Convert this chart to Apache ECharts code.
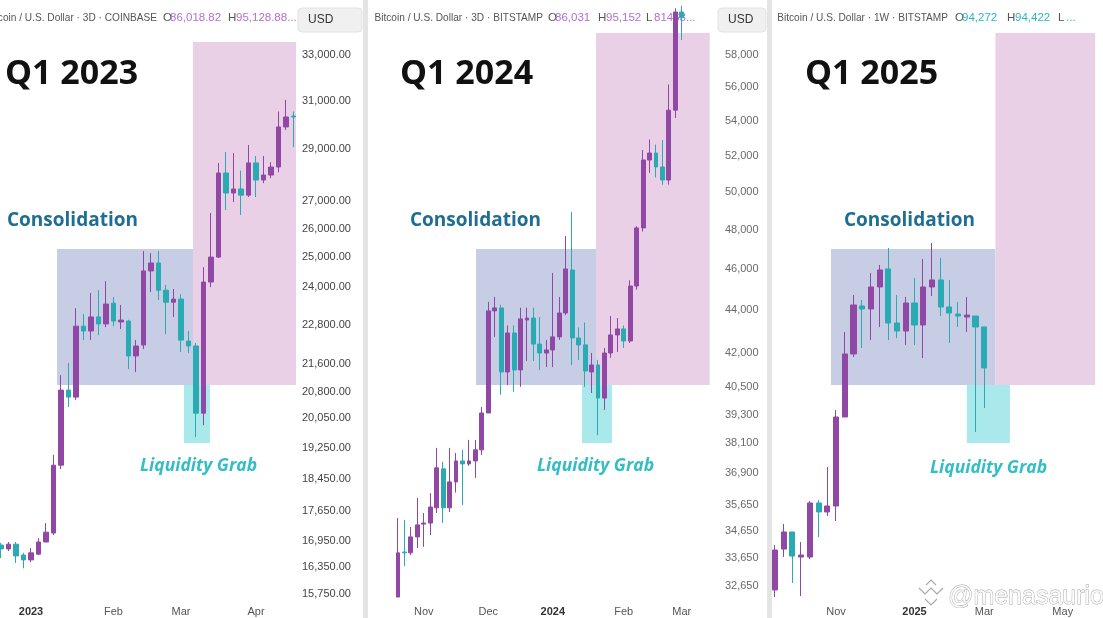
<!DOCTYPE html>
<html><head><meta charset="utf-8">
<script src="https://cdn.jsdelivr.net/npm/echarts@6/dist/echarts.min.js"></script>
<style>html,body{margin:0;padding:0;background:#fff}#c{width:1103px;height:618px}</style>
</head><body><div id="c"></div>
<script>
// ===== Q1 2023 : BTC/USD 3D (Coinbase) =====
const q23Start = '2022-12-20', q23StepDays = 3;
const q23Candles = [ // [open, close, low, high]
 [16850,16760,16550,16900],[16760,16870,16710,16920],[16870,16600,16440,16920],[16620,16510,16320,16670],
 [16510,16670,16460,16780],[16640,16920,16620,17010],[16920,17150,16920,17365],[17130,18800,17080,19070],
 [18800,20840,18700,21270],[20840,20640,20360,21630],[20640,22750,20560,23320],[22750,22600,22320,23130],
 [22600,23040,22320,23810],[23040,22820,22470,23900],[22820,23450,22720,24200],[23480,22910,22750,23680],
 [22880,22940,22660,23420],[22910,21840,21450,22950],[21840,22140,21360,22320],[22170,24540,22050,25220],
 [24540,24810,23840,25150],[24810,23900,23580,25220],[23900,23510,22500,24070],[23510,23610,23035,23940],
 [23610,22320,21960,23770],[22290,22140,21930,22600],[22140,20190,19540,22230],[20190,24170,19860,24670],
 [24170,25010,24000,26570],[25010,28070,24980,28460],[28070,27310,26680,28890],[27310,27460,26970,28850],
 [27460,27230,26500,28160],[27230,28460,27160,29170],[28460,27800,27160,28730],[27800,27990,27680,28730],
 [27990,28300,27870,28490],[28300,29900,28100,30540],[29900,30310,29780,31030],[30350,30310,29090,30540]
];
const q23PriceTicks = [33000,31000,29000,27000,26000,25000,24000,22800,21600,20800,20050,19250,18450,17650,16950,16350,15750];
const q23MonthTicks = ['2023-01-01','2023-02-03','2023-03-02','2023-04-01'];
const q23MonthNames = ['2023','Feb','Mar','Apr'];
const q23Consolidation = {from:'2023-01-11 10:00', to:'2023-03-06 19:00', low:20985, high:25290};
const q23Target = {from:'2023-03-06 19:00', to:'2023-04-17', low:20985, high:33594};
const q23Grab = {from:'2023-03-03 05:00', to:'2023-03-13 14:00', low:19381, high:20985};

// ===== Q1 2024 : BTC/USD 3D (Bitstamp) =====
const q24Start = '2023-10-21', q24StepDays = 3;
const q24Candles = [
 [32260,33840,32260,35140],[33870,33840,33360,35070],[33840,34430,33760,34800],[34430,34880,34020,35910],
 [34910,34950,34060,35330],[34950,35560,34500,36100],[35530,37100,35330,37910],[37060,35530,34950,37340],
 [35530,36540,35370,37910],[36540,37380,36120,37700],[37380,37260,35640,37830],[37260,37380,37180,38240],
 [37380,37830,36700,38240],[37830,39370,37620,39630],[39370,43970,39370,44400],[43970,44110,42750,44640],
 [44110,41160,40150,44260],[41160,42930,40580,43280],[42930,41250,40280,43280],[41250,43590,40500,44120],
 [43540,43630,41650,44120],[43630,42420,41650,44120],[42420,42010,41250,43680],[42010,42150,41380,42610],
 [42150,42750,41380,45810],[42750,43870,42610,44640],[43870,46010,43770,47680],[45960,42700,41470,48940],
 [42700,42380,41700,43190],[42380,41200,40500,43420],[41160,41470,40230,42010],[41470,40010,38440,41700],
 [40010,42010,39500,42240],[42010,42840,41790,43730],[42840,43120,42060,43630],[43120,42560,42240,43280],
 [42560,45170,42470,45450],[45170,48100,44990,48190],[48100,51770,47910,52330],[51770,52160,51050,52930],
 [52160,51380,50800,52640],[51380,50660,50400,52900],[50660,54640,50410,56180],[54640,60760,54180,61010],
 [60760,60390,58950,61180]
];
const q24PriceTicks = [58000,56000,54000,52000,50000,48000,46000,44000,42000,40500,39300,38100,36900,35650,34650,33650,32650];
const q24MonthTicks = ['2023-11-02','2023-12-02','2024-01-01','2024-02-03','2024-03-01'];
const q24MonthNames = ['Nov','Dec','2024','Feb','Mar'];
const q24Consolidation = {from:'2023-11-26 07:00', to:'2024-01-21 02:00', low:40583, high:47015};
const q24Target = {from:'2024-01-21 02:00', to:'2024-03-14', low:40583, high:59398};
const q24Grab = {from:'2024-01-14 14:00', to:'2024-01-28 12:00', low:38112, high:40583};

// ===== Q1 2025 : BTC/USD 1W (Bitstamp) =====
const q25Start = '2024-09-16', q25StepDays = 7;
const q25Candles = [
 [59230,63560,58500,64130],[63670,65620,62780,66560],[65620,62890,59960,65620],[62780,63000,58600,64470],
 [62780,69070,62560,69310],[69070,67980,65040,69430],[67980,68700,67500,73600],[68700,80400,66900,81400],
 [80400,89870,80400,93430],[89870,97990,89390,99740],[97820,97300,90820,98860],[97300,101160,92100,103690],
 [101160,104250,94260,105170],[104430,94920,92100,108380],[94920,93590,92430,99740],[93590,98340,91310,99390],
 [98340,94590,91310,102780],[94590,101160,89230,106290],[101160,102420,99560,109330],[102420,97650,96100,106480],
 [97650,96610,91630,102420],[96440,96100,94260,98510],[95930,96270,93430,99390],[96100,94260,78300,96100],
 [94260,87670,81690,94260]
];
const q25MonthTicks = ['2024-11-04','2025-01-06','2025-03-03','2025-05-05'];
const q25MonthNames = ['Nov','2025','Mar','May'];
const q25Consolidation = {from:'2024-10-31', to:'2025-03-12', low:85077, high:108185};
const q25Target = {from:'2025-03-12', to:'2025-05-31', low:85077, high:158456};
const q25Grab = {from:'2025-02-17', to:'2025-03-23 14:00', low:76790, high:85077};

// header legends (symbol line + OHLC excerpts)
const headerBase = ['Bitcoin / U.S. Dollar · 3D · COINBASE', 'Bitcoin / U.S. Dollar · 3D · BITSTAMP', 'Bitcoin / U.S. Dollar · 1W · BITSTAMP'];
const headerFields = [
  [['O','86,018.82'], ['H','95,128.88...']],
  [['O','86,031'], ['H','95,152'], ['L','81463...']],
  [['O','94,272'], ['H','94,422'], ['L','...']]
];

// ---------- build ----------
const UP = '#9148a4', DN = '#2aaab2';
function toTs(s){ const m = s.match(/(\d+)-(\d+)-(\d+)(?: (\d+):(\d+))?/); return Date.UTC(+m[1], +m[2]-1, +m[3], +(m[4]||0), +(m[5]||0)); }
function candleTimes(start, step, n){ const t0 = toTs(start), out = []; for (let i = 0; i < n; i++) out.push(t0 + step*i*86400000); return out; }
function zone(z, color){ return [{xAxis: toTs(z.from), yAxis: z.low, itemStyle:{color: color}}, {xAxis: toTs(z.to), yAxis: z.high}]; }

const panels = [
  {start:q23Start, step:q23StepDays, candles:q23Candles, ticks:q23PriceTicks, mt:q23MonthTicks, mn:q23MonthNames,
   cons:q23Consolidation, tgt:q23Target, grab:q23Grab, left:-4, width:300, xmin:'2022-12-18', xmax:'2023-04-17',
   ymin:15626, ymax:35587, barW:5, fmt: v => v.toLocaleString('en-US',{minimumFractionDigits:2, maximumFractionDigits:2}), labColor:'#444', margin:6, showY:true},
  {start:q24Start, step:q24StepDays, candles:q24Candles, ticks:q24PriceTicks, mt:q24MonthTicks, mn:q24MonthNames,
   cons:q24Consolidation, tgt:q24Target, grab:q24Grab, left:372.2, width:339.7, xmin:'2023-10-09', xmax:'2024-03-15',
   ymin:32157, ymax:61556, barW:4.4, fmt: v => v.toLocaleString('en-US'), labColor:'#6a6a6a', margin:13, showY:true},
  {start:q25Start, step:q25StepDays, candles:q25Candles, ticks:[], mt:q25MonthTicks, mn:q25MonthNames,
   cons:q25Consolidation, tgt:q25Target, grab:q25Grab, left:770, width:332.6, xmin:'2024-09-12', xmax:'2025-06-06',
   ymin:58190, ymax:167950, barW:5.6, fmt: v => v.toLocaleString('en-US'), labColor:'#666', margin:8, showY:false}
];

const H = '"Liberation Sans", Arial, sans-serif';
const grid = [], xAxis = [], yAxis = [], series = [];
panels.forEach((p, k) => {
  grid.push({left:p.left, width:p.width, top:0, height:600, outerBoundsMode:'none', containLabel:false});
  const mts = p.mt.map(toTs);
  xAxis.push({type:'value', gridIndex:k, min:toTs(p.xmin), max:toTs(p.xmax), scale:true,
    axisLine:{show:false}, axisTick:{show:false}, splitLine:{show:false},
    axisLabel:{customValues:mts, margin:6, color:'#555', fontSize:11, fontFamily:H, hideOverlap:false,
      showMinLabel:true, showMaxLabel:true,
      formatter: v => { const j = mts.findIndex(t => Math.abs(t - v) < 43200000); if (j < 0) return ''; const n = p.mn[j]; return /^\d{4}$/.test(n) ? '{y|' + n + '}' : n; },
      rich:{y:{fontWeight:'bold', color:'#333', fontSize:11, fontFamily:H}}}});
  yAxis.push({type:'log', logBase:10, gridIndex:k, position:'right', min:p.ymin, max:p.ymax, show:p.showY,
    axisLine:{show:false}, axisTick:{show:false}, splitLine:{show:false},
    axisLabel:{customValues:p.ticks, margin:p.margin, color:p.labColor, fontSize:11, fontFamily:H,
      showMinLabel:true, showMaxLabel:true, formatter: v => p.fmt(Math.round(v))}});
  const ts = candleTimes(p.start, p.step, p.candles.length);
  series.push({type:'candlestick', xAxisIndex:k, yAxisIndex:k, barWidth:p.barW, silent:true, z:3,
    data: p.candles.map((c, i) => [ts[i], c[0], c[1], c[2], c[3]]),
    itemStyle:{color:UP, color0:DN, borderColor:UP, borderColor0:DN, borderWidth:1},
    markArea:{silent:true, label:{show:false}, itemStyle:{opacity:1, borderWidth:0},
      data:[zone(p.cons,'#c6cde4'), zone(p.tgt,'#e9d0e7'), zone(p.grab,'#a9e9eb')]}});
});

const F = '"Open Sans", "Noto Sans", sans-serif';
function txt(x, s, color, align, sx){ return {type:'text', x:x, y:18, z:1, scaleX: sx || 1, style:{text:s, font:'11.5px ' + H, fill:color, align: align || 'left', verticalAlign:'middle'}}; }
// header layouts: [base right edge, [label x, value x] ...]
const headerPos = [
  {baseRight:157, fields:[[163,170],[228,236]]},
  {baseRight:543, fields:[[548,555],[598,606],[646,654]]},
  {baseRight:948, fields:[[955,962],[1007,1015],[1058,1066]]}
];
const headerColors = ['#b46fd0', '#b46fd0', '#2ab6c0'];
function title(x, t){ return {type:'text', x:x, y:74, z:10, style:{text:t, font:'bold 34px ' + F, fill:'#111', verticalAlign:'middle'}}; }
function cons(x){ return {type:'text', x:x, y:221, z:10, style:{text:'Consolidation', font:'bold 19px ' + F, fill:'#1e6d92', verticalAlign:'middle'}}; }
function grab(x, y){ return {type:'text', x:x, y:y, z:10, style:{text:'Liquidity Grab', font:'italic bold 17.5px ' + F, fill:'#33bdc6', verticalAlign:'middle'}}; }
function usd(x, w){ return {type:'group', x:x, y:8, z:10, children:[
  {type:'rect', shape:{x:0, y:0, width:w, height:24, r:4}, style:{fill:'#f0f0f0', stroke:'#e2e2e2'}},
  {type:'text', x:10, y:12, style:{text:'USD', font:'12px ' + H, fill:'#333', verticalAlign:'middle'}}]}; }

const graphic = [
  {type:'rect', shape:{x:363, y:0, width:5, height:618}, style:{fill:'#e4e4e4'}, z:10},
  {type:'rect', shape:{x:767, y:0, width:5, height:618}, style:{fill:'#e4e4e4'}, z:10},
  usd(298, 64), usd(718, 48),
  title(5, 'Q1 2023'), title(400, 'Q1 2024'), title(805, 'Q1 2025'),
  cons(7), cons(410), cons(844),
  grab(140, 466), grab(537, 466), grab(930, 468),
  {type:'polyline', z:20, shape:{points:[[919,588],[925,594],[931,588],[937,594],[943,588]]}, style:{stroke:'#aaa', lineWidth:1.2, fill:null}},
  {type:'polyline', z:20, shape:{points:[[925,599],[931,605],[937,599]]}, style:{stroke:'#aaa', lineWidth:1.2, fill:null}},
  {type:'polyline', z:20, shape:{points:[[926,585],[931,580],[936,585]]}, style:{stroke:'#aaa', lineWidth:1.2, fill:null}},
  {type:'text', x:948, y:597, z:20, style:{text:'@menasaurio', font:'25px ' + H, fill:'rgba(255,255,255,0.85)', stroke:'#a5a5a5', lineWidth:0.8, verticalAlign:'middle'}}
];
headerPos.forEach((hp, k) => {
  graphic.push(txt(hp.baseRight, headerBase[k], '#555', 'right', 0.88));
  hp.fields.forEach((f, j) => {
    graphic.push(txt(f[0], headerFields[k][j][0], '#555'));
    graphic.push(txt(f[1], headerFields[k][j][1], headerColors[k]));
  });
});

const chart = echarts.init(document.getElementById('c'), null, {renderer:'canvas'});
chart.setOption({animation:false, backgroundColor:'#fff', grid, xAxis, yAxis, series, graphic});
</script></body></html>
